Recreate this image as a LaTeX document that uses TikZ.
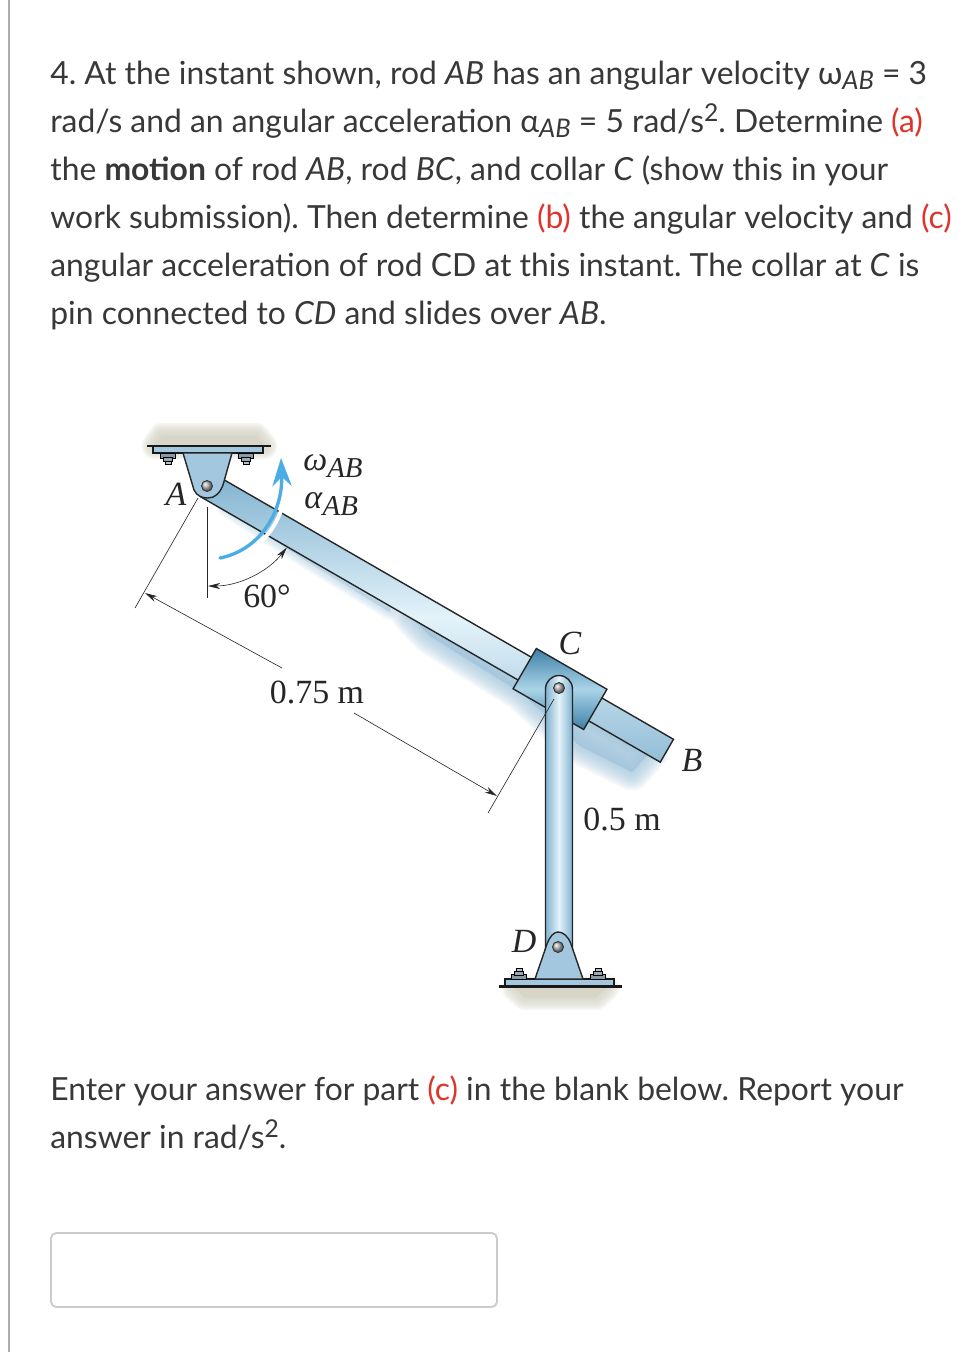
\documentclass[tikz,border=0pt]{standalone}
\usepackage{xcolor}
\usepackage{fontspec}
\setmainfont{Lato}
\newfontfamily\figfont{Liberation Serif}
\usetikzlibrary{arrows.meta, positioning, shapes.geometric, arrows}
\definecolor{steelblue}{RGB}{163,199,222}
\definecolor{rodblue}{RGB}{128,178,208}
\definecolor{rodpale}{RGB}{228,243,250}
\definecolor{collarblue}{RGB}{62,128,166}
\definecolor{collarpale}{RGB}{170,212,232}
\definecolor{arrowblue}{RGB}{76,172,230}
\definecolor{groundtan}{RGB}{214,213,199}
\definecolor{answerred}{RGB}{222,52,42}
\definecolor{framegrey}{RGB}{172,172,172}
\definecolor{boxgrey}{RGB}{204,204,204}
\frenchspacing
\newcommand{\lowidx}[1]{\raisebox{-.36ex}{\fontsize{14.6}{16}\selectfont\itshape #1}}
\newcommand{\highidx}[1]{\raisebox{.65ex}{\fontsize{14}{16}\selectfont #1}}
\newcommand{\figidx}[1]{\raisebox{-.45ex}{\fontsize{16.4}{18}\selectfont\itshape #1}}
\newcommand{\redtxt}[1]{\textcolor{answerred}{#1}}
\tikzstyle{textline} = [anchor=base west, inner sep=0pt, text=black!78, font=\fontsize{18.13}{22}\selectfont]
\tikzstyle{figlabel} = [inner sep=0pt, text=black!85, font=\figfont\fontsize{19.3}{22}\selectfont]
\tikzstyle{rodbox} = [rectangle, draw=black!85, line width=0.8pt, rotate=-30, top color=rodblue, bottom color=rodblue!85, middle color=rodpale, inner sep=0pt]
\tikzstyle{collarbox} = [rectangle, draw=black!85, line width=0.8pt, rotate=-30, top color=collarblue, bottom color=collarblue, middle color=collarpale, inner sep=0pt]
\tikzstyle{pinball} = [circle, draw=black!80, line width=0.5pt, ball color=black!30, minimum size=0.22cm, inner sep=0pt]
\tikzstyle{bracket} = [fill=steelblue, draw=black!85, line width=0.8pt]
\tikzstyle{dimline} = [black!85, line width=0.35pt]
\tikzstyle{dimarrow} = [dimline, -{Stealth[length=7pt,width=3.5pt]}]
\tikzset{
  nutbolt/.pic={
    \draw[fill=black!25, line width=0.4pt] (-3,-11) rectangle (3,-6);
    \draw[fill=steelblue!65!black!80, line width=0.5pt] (-7.5,0) rectangle (7.5,-5);
    \draw[fill=steelblue!60!gray, line width=0.4pt] (-4.5,-4) rectangle (4.5,-8);
  }
}

\begin{document}
\begin{tikzpicture}[x=0.02cm, y=-0.02cm]
\useasboundingbox (0,0) rectangle (966,1352);
\fill[white] (0,0) rectangle (966,1352);
\draw[framegrey, line width=1.1pt] (9,0) -- (9,1352);

% Text
\node (line1) [textline] at (50,84) {4. At the instant shown, rod \textit{AB} has an angular velocity ω\lowidx{AB} = 3};
\node (line2) [textline] at (50,132) {rad/s and an angular acceleration α\lowidx{AB} = 5 rad/s\highidx{2}. Determine \redtxt{(a)}};
\node (line3) [textline] at (50,180) {the \textbf{motion} of rod \textit{AB}, rod \textit{BC}, and collar \textit{C} (show this in your};
\node (line4) [textline] at (50,228) {work submission). Then determine \redtxt{(b)} the angular velocity and \redtxt{(c)}};
\node (line5) [textline] at (50,276) {angular acceleration of rod CD at this instant. The collar at \textit{C} is};
\node (line6) [textline] at (50,324) {pin connected to \textit{CD} and slides over \textit{AB}.};
\node (line7) [textline] at (50,1100) {Enter your answer for part \redtxt{(c)} in the blank below. Report your};
\node (line8) [textline] at (50,1148) {answer in rad/s\highidx{2}.};
\draw[boxgrey, line width=1.1pt, rounded corners=3pt] (51,1233) rectangle (497,1307);

% Shadows
\foreach \w in {1,3,...,9}
  \draw[steelblue, opacity=0.12, fill, line width=\w pt, line join=round]
    (225,508) -- (300,557) -- (390,612) -- (390,600) -- cycle;
\foreach \w in {1,3,...,21}
  \draw[steelblue, opacity=0.11, fill, line width=\w pt, line join=round]
    (410,615) -- (430,636) -- (520,692) -- (580,746) -- (632,772) -- (650,752) -- (540,680) -- cycle;
\foreach \w in {1,3,...,15}
  \draw[groundtan, opacity=0.22, fill, line width=\w pt, line join=round]
    (162,436) -- (256,436) -- (264,446) -- (155,446) -- cycle;
\foreach \w in {1,3,...,15}
  \draw[groundtan, opacity=0.2, fill, line width=\w pt, line join=round]
    (515,988) -- (606,988) -- (596,997) -- (525,997) -- cycle;

% Rod and collar
\node (rodAB) [rodbox, minimum width=10.62cm, minimum height=0.528cm] at (437,618) {};
\node (collarC) [collarbox, minimum width=1.63cm, minimum height=0.93cm] at (560,689) {};

% Link CD
\draw[line width=0.8pt, draw=black!85, left color=rodblue, right color=rodblue, middle color=rodpale]
  (545.5,965) -- (545.5,689) arc (180:360:13.5) -- (572.5,965) -- cycle;

% Supports
\draw[black!90, line width=1.3pt, fill=steelblue] (153,446) rectangle (263,453);
\draw[black!90, line width=1.7pt] (147,446) -- (271,446);
\pic at (168,453) [yscale=-1] {nutbolt};
\pic at (246,453) [yscale=-1] {nutbolt};
\draw[bracket] (183,453) -- (194,490) .. controls (197,496) and (202,498) .. (208,498)
  .. controls (215,498) and (220,493) .. (223,485) -- (232,453) -- cycle;
\draw[black!90, line width=1.3pt, fill=steelblue] (505,979) rectangle (614,986);
\draw[black!90, line width=1.7pt] (499,986) -- (622,986);
\pic at (519,979) {nutbolt};
\pic at (598,979) {nutbolt};
\draw[bracket] (535,979) -- (547,944) .. controls (550,936) and (554,932) .. (558,932)
  .. controls (563,932) and (568,936) .. (571,944) -- (583,979) -- cycle;

% Pins
\node (pinA) [pinball] at (207,486) {};
\node (pinC) [pinball] at (559,688) {};
\node (pinD) [pinball] at (558,947) {};

% Dimensions
\coordinate (extA) at (135,608);
\coordinate (tipA) at (145,593);
\coordinate (gapA) at (282,668);
\coordinate (gapC) at (354,713);
\coordinate (tipC) at (497,796);
\draw[dimline] (198,498) -- (extA);
\draw[dimline] (554,699) -- (488,813);
\draw[dimline] (207,507) -- (207,598);
\draw[dimarrow] (gapA) -- (tipA);
\draw[dimarrow] (gapC) -- (tipC);
\draw[dimline, {Stealth[length=7pt,width=3.5pt]}-{Stealth[length=7pt,width=3.5pt]}] (208,586) arc (90:38:100);

% Angular arrow
\draw[white, line width=2.2pt] (232,558) .. controls (268,548) and (287,512) .. (285,482);
\draw[arrowblue, line width=1.9pt, line cap=round, -{Stealth[length=16pt,width=11pt]}]
  (220,558) .. controls (260,550) and (283,512) .. (281,458);

% Labels
\node (labA) [figlabel] at (176,494) {\itshape A};
\node (labB) [figlabel] at (692,760) {\itshape B};
\node (labC) [figlabel] at (570,643) {\itshape C};
\node (labD) [figlabel] at (524,941) {\itshape D};
\node (lab60) [figlabel] at (267,596) {60°};
\node (lab075) [figlabel] at (317,692) {0.75 m};
\node (lab05) [figlabel] at (622,819) {0.5 m};
\node (labw) [figlabel, anchor=base west] at (303,470) {\textit{ω}\figidx{AB}};
\node (laba) [figlabel, anchor=base west] at (304,508) {\textit{α}\figidx{AB}};
\end{tikzpicture}
\end{document}
